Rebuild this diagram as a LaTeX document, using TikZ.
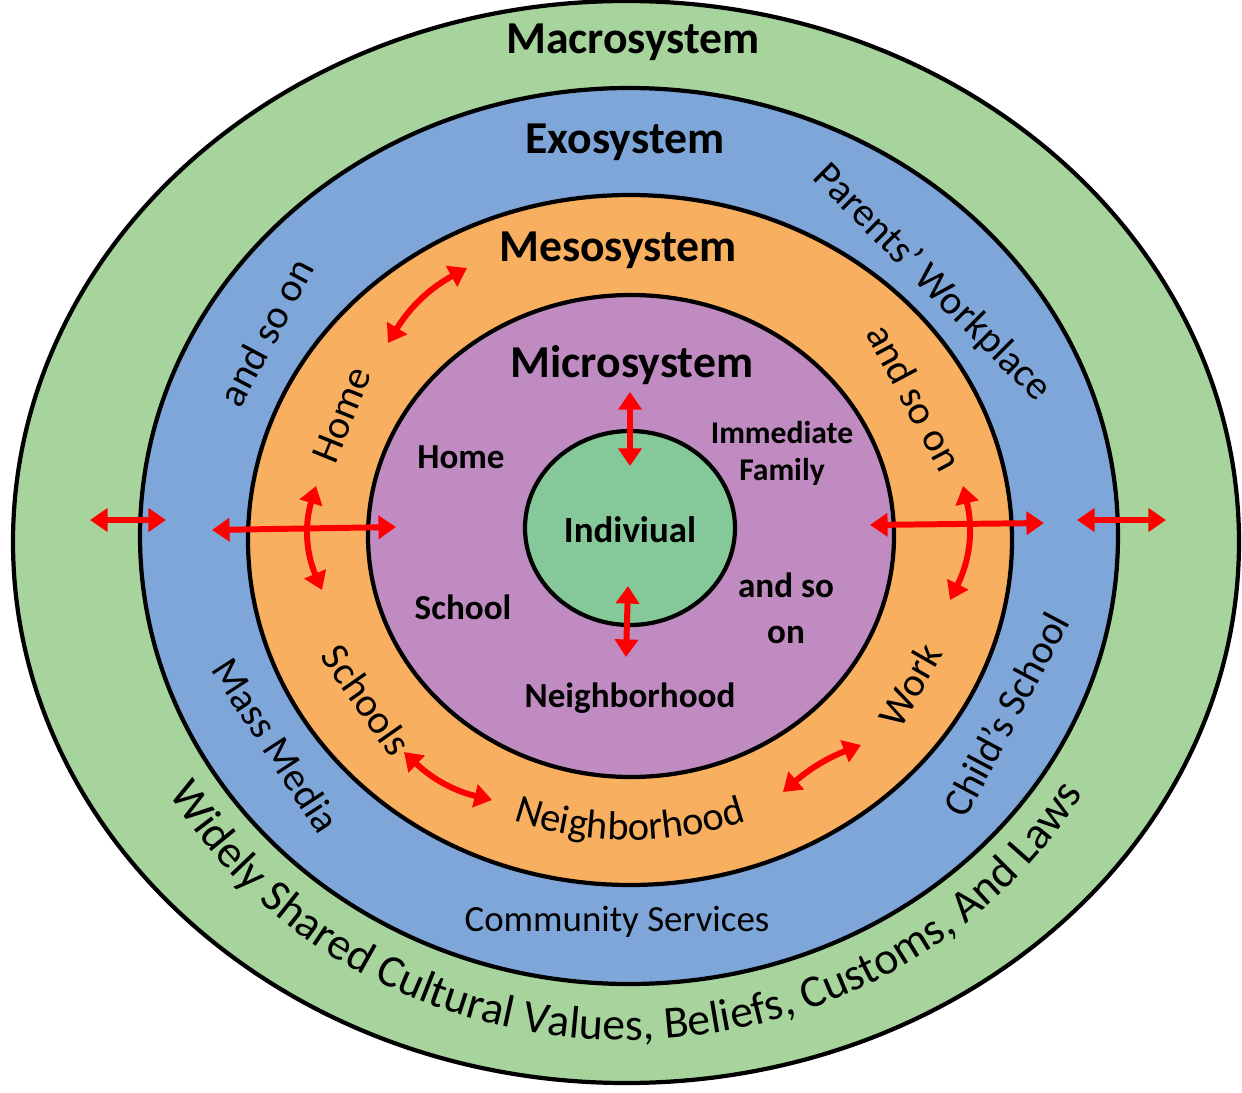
\documentclass[tikz,border=0pt]{standalone}
\usepackage{fontspec}
\setmainfont{Carlito}
\usetikzlibrary{arrows.meta,decorations.text}
\definecolor{macroC}{HTML}{A7D49C}
\definecolor{exoC}{HTML}{7EA6D9}
\definecolor{mesoC}{HTML}{F8AF5F}
\definecolor{microC}{HTML}{BF8BC0}
\definecolor{indC}{HTML}{85C99B}
\tikzset{
  ring/.style={draw=black, line width=2.4pt},
  title/.style={font=\fontsize{26}{30}\selectfont\bfseries},
  lbl/.style={font=\fontsize{23}{26}\selectfont},
  blbl/.style={font=\fontsize{20}{23}\selectfont\bfseries, align=center},
  arr/.style={draw=red, line width=3.4pt, {Triangle[length=10pt,width=13pt]}-{Triangle[length=10pt,width=13pt]}}
}
\begin{document}
\begin{tikzpicture}[x=0.02cm,y=-0.02cm]
\useasboundingbox (0,0) rectangle (1242,1093);
% rings
\draw[ring, fill=macroC] (626,542) ellipse [x radius=613, y radius=541];
\draw[ring, fill=exoC] (629,536) ellipse [x radius=489, y radius=448];
\draw[ring, fill=mesoC] (630,540) ellipse [x radius=382, y radius=345];
\draw[ring, fill=microC] (631,536) ellipse [x radius=263, y radius=241];
\draw[ring, fill=indC] (630,528) ellipse [x radius=105, y radius=97];
% titles
\node[title] (macro) at (633,42) {Macrosystem};
\node[title] (exo) at (625,142) {Exosystem};
\node[title] (meso) at (618,250) {Mesosystem};
\node[title] (micro) at (632,365) {Microsystem};
\node[blbl, font=\fontsize{21}{24}\selectfont\bfseries] (ind) at (630,530) {Indiviual};
% microsystem
\node[blbl] (home) at (461,457) {Home};
\node[blbl] (school) at (463,607) {School};
\node[blbl] (nbh) at (630,698) {Neighborhood};
\node[blbl, font=\fontsize{18}{21}\selectfont\bfseries] (fam) at (782,453) {Immediate\\Family};
\node[blbl, font=\fontsize{20}{26}\selectfont\bfseries] (mso) at (786,608) {and so\\on};
% mesosystem
\node[lbl, rotate=68] (mhome) at (342,415) {Home};
\node[lbl, rotate=-62] (mso2) at (915,397) {and so on};
\node[lbl, rotate=-55] (mschool) at (367,700) {Schools};
\node[lbl, rotate=60] (mwork) at (910,685) {Work};
\path[decorate, decoration={text along path, text align=center,
  text={|\fontsize{23}{26}\selectfont|Neighborhood}}]
  (630,540) ++(118:330 and 300) arc [start angle=118, end angle=62, x radius=330, y radius=300];
% exosystem
\node[lbl, rotate=-45] (work) at (932,283) {Parents’ Workplace};
\node[lbl, rotate=62] (eso) at (266,332) {and so on};
\node[lbl, rotate=-57] (media) at (276,745) {Mass Media};
\node[lbl, rotate=62] (child) at (1006,714) {Child’s School};
\node[lbl, font=\fontsize{21}{24}\selectfont] (comm) at (617,922) {Community Services};
% macrosystem
\path[decorate, decoration={text along path, text align=center,
  text={|\fontsize{26}{30}\selectfont|Widely Shared Cultural Values, Beliefs, Customs, And Laws}}]
  (626,540) ++(153:530 and 500) arc [start angle=153, end angle=27, x radius=530, y radius=500];
% arrows
\coordinate (a1) at (90,520); \coordinate (a2) at (166,520);
\coordinate (a3) at (1077,520); \coordinate (a4) at (1166,520);
\coordinate (b1) at (212,530); \coordinate (b2) at (396,527);
\coordinate (b3) at (870,525); \coordinate (b4) at (1044,523);
\coordinate (c1) at (316,486); \coordinate (c2) at (322,590);
\coordinate (c3) at (963,486); \coordinate (c4) at (950,600);
\coordinate (d1) at (630,392); \coordinate (d2) at (630,466);
\coordinate (d3) at (628,586); \coordinate (d4) at (626,657);
\coordinate (e1) at (388,343); \coordinate (e2) at (467,268);
\coordinate (e3) at (404,752); \coordinate (e4) at (492,800);
\coordinate (e5) at (783,792); \coordinate (e6) at (861,745);
\draw[arr] (a1) -- (a2);
\draw[arr] (a3) -- (a4);
\draw[arr] (b1) -- (b2);
\draw[arr] (b3) -- (b4);
\draw[arr] (c1) to[bend right=20] (c2);
\draw[arr] (c3) to[bend left=20] (c4);
\draw[arr] (d1) -- (d2);
\draw[arr] (d3) -- (d4);
\draw[arr] (e1) to[bend left=15] (e2);
\draw[arr] (e3) to[bend right=15] (e4);
\draw[arr] (e5) to[bend left=10] (e6);
\end{tikzpicture}
\end{document}
